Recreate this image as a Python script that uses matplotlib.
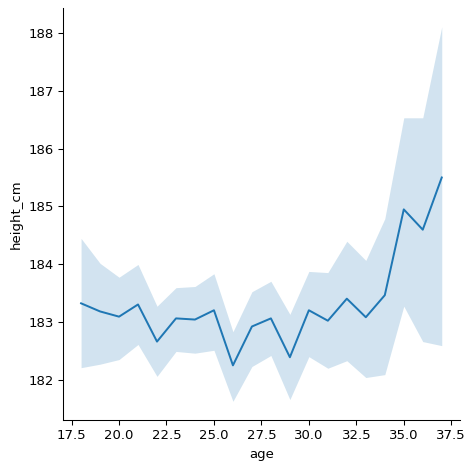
import matplotlib
matplotlib.use("Agg")
import matplotlib.pyplot as plt

age = [18, 19, 20, 21, 22, 23, 24, 25, 26, 27, 28, 29, 30, 31, 32, 33, 34, 35, 36, 37]
height_mean = [183.33, 183.19, 183.10, 183.31, 182.67, 183.07, 183.05, 183.21, 182.26, 182.93,
               183.07, 182.40, 183.21, 183.03, 183.41, 183.09, 183.47, 184.95, 184.60, 185.50]
ci_high = [184.45, 184.02, 183.78, 184.00, 183.28, 183.60, 183.62, 183.84, 182.84, 183.53,
           183.71, 183.14, 183.88, 183.86, 184.40, 184.07, 184.79, 186.53, 186.53, 188.10]
ci_low = [182.22, 182.28, 182.36, 182.62, 182.07, 182.50, 182.47, 182.52, 181.64, 182.24,
          182.43, 181.67, 182.41, 182.21, 182.34, 182.05, 182.10, 183.28, 182.67, 182.60]

fig, ax = plt.subplots(figsize=(474 / 95, 473 / 95), dpi=95)
ax.fill_between(age, ci_low, ci_high, color="#1f77b4", alpha=0.2, linewidth=0)
ax.plot(age, height_mean, color="#1f77b4", linewidth=1.5)

ax.set_xlabel("age")
ax.set_ylabel("height_cm")
ax.spines["top"].set_visible(False)
ax.spines["right"].set_visible(False)

fig.subplots_adjust(left=0.133, right=0.970, bottom=0.112, top=0.983)
fig.savefig("out.png", dpi=95)
